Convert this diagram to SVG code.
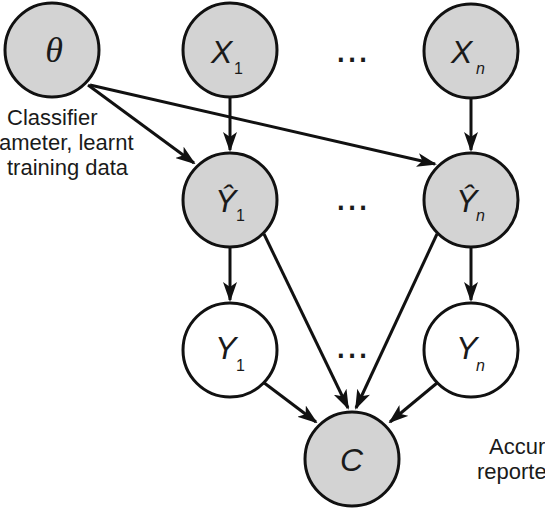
<svg xmlns="http://www.w3.org/2000/svg" width="545" height="513" viewBox="0 0 545 513">
<style>
.nd{fill:#d3d3d3;stroke:#111;stroke-width:3}
.ob{fill:#fff;stroke:#111;stroke-width:3}
.lb{font-family:"Liberation Sans",Arial,sans-serif;font-size:32px;font-style:italic;fill:#1a1a1a}
.sb{font-family:"Liberation Sans",Arial,sans-serif;font-size:16px;fill:#1a1a1a}
.sbi{font-style:italic}
.ann{font-family:"Liberation Sans",Arial,sans-serif;font-size:22px;fill:#1a1a1a}
.dots{font-family:"Liberation Sans",Arial,sans-serif;font-size:40px;fill:#1a1a1a;text-anchor:middle}
.ed{stroke:#111;stroke-width:3;fill:none;marker-end:url(#ah)}
</style>
<defs>
<marker id="ah" markerUnits="userSpaceOnUse" markerWidth="20" markerHeight="14" viewBox="0 0 20 14" refX="18" refY="7" orient="auto">
<path d="M0,0 L20,7 L0,14 L5,7 Z" fill="#111"/>
</marker>
</defs>
<rect width="545" height="513" fill="#fff"/>
<g id="connectors">
<line class="ed" x1="88" y1="85" x2="194" y2="163"/>
<line class="ed" x1="90" y1="85" x2="435" y2="164"/>
<line class="ed" x1="230" y1="98" x2="230" y2="150"/>
<line class="ed" x1="471" y1="98" x2="471" y2="150"/>
<line class="ed" x1="230" y1="248" x2="230" y2="300"/>
<line class="ed" x1="471" y1="248" x2="471" y2="300"/>
<line class="ed" x1="264" y1="234" x2="348" y2="408"/>
<line class="ed" x1="437" y1="234" x2="356" y2="408"/>
<line class="ed" x1="263" y1="382" x2="316" y2="422"/>
<line class="ed" x1="437" y1="383" x2="390" y2="422"/>
</g>
<g id="theta">
<circle class="nd" cx="52" cy="50" r="47"/>
<text x="54" y="62" font-family="'Liberation Serif','Times New Roman',serif" font-style="italic" font-size="36" fill="#1a1a1a" text-anchor="middle">θ</text>
</g>
<g id="X1">
<circle class="nd" cx="230" cy="50" r="47"/>
<text class="lb" x="211" y="63">X</text><text class="sb" x="234" y="74">1</text>
</g>
<g id="Xn">
<circle class="nd" cx="471" cy="51" r="47"/>
<text class="lb" x="451" y="63">X</text><text class="sb sbi" x="476" y="74">n</text>
</g>
<g id="Yhat1">
<circle class="nd" cx="230" cy="200" r="47"/>
<text class="lb" x="215" y="212">Ŷ</text><text class="sb" x="236" y="221">1</text>
</g>
<g id="Yhatn">
<circle class="nd" cx="471" cy="200" r="47"/>
<text class="lb" x="456" y="212">Ŷ</text><text class="sb sbi" x="476" y="221">n</text>
</g>
<g id="Y1">
<circle class="ob" cx="230" cy="350" r="47"/>
<text class="lb" x="215" y="359">Y</text><text class="sb" x="236" y="371">1</text>
</g>
<g id="Yn">
<circle class="ob" cx="471" cy="350" r="47"/>
<text class="lb" x="456" y="359">Y</text><text class="sb sbi" x="476" y="371">n</text>
</g>
<g id="C">
<circle class="nd" cx="352" cy="459" r="47"/>
<text class="lb" x="340" y="471">C</text>
</g>
<g id="dots">
<text class="dots" x="352" y="62">...</text>
<text class="dots" x="352" y="210">...</text>
<text class="dots" x="352" y="358">...</text>
</g>
<g id="annotations">
<text class="ann" x="7" y="125">Classifier</text>
<text class="ann" x="-1" y="150">ameter, learnt</text>
<text class="ann" x="7" y="175">training data</text>
<text class="ann" x="489" y="454">Accur</text>
<text class="ann" x="477" y="479">reporte</text>
</g>
</svg>
